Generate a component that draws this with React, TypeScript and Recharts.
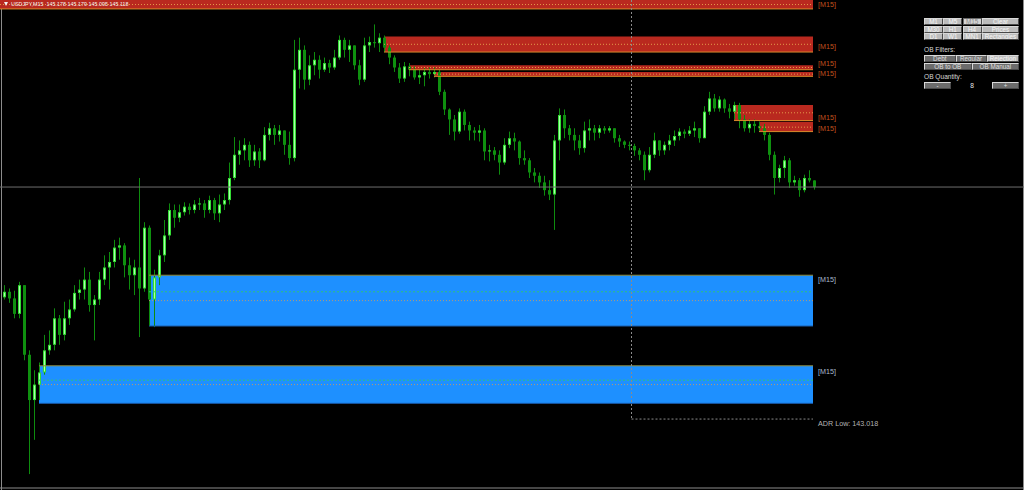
import {
  ComposedChart,
  Bar,
  XAxis,
  YAxis,
  ReferenceArea,
  ReferenceLine,
  ReferenceDot,
} from "recharts";

// USDJPY M15 – price values
const SYMBOL = "USDJPY,M15";
const FIRST_OPEN = 144.12;

const closes = [
  144.17, 144.11, 143.97, 144.23, 143.60, 143.19, 143.33, 143.44, 143.64, 143.69,
  143.93, 143.78, 143.93, 144.01, 144.16, 144.19, 144.28, 144.05, 144.10, 144.28,
  144.39, 144.44, 144.57, 144.59, 144.41, 144.32, 144.39, 144.20, 144.75, 144.10,
  144.30, 144.50, 144.68, 144.91, 144.84, 144.89, 144.94, 144.91, 144.96, 144.97,
  144.91, 145.00, 144.88, 144.96, 145.00, 145.20, 145.41, 145.45, 145.50, 145.36,
  145.44, 145.36, 145.59, 145.65, 145.59, 145.63, 145.50, 145.38, 146.18, 146.36,
  146.09, 146.22, 146.27, 146.18, 146.24, 146.20, 146.29, 146.45, 146.36, 146.40,
  146.22, 146.09, 146.40, 146.43, 146.42, 146.47, 146.38, 146.29, 146.20, 146.10,
  146.21, 146.18, 146.11, 146.13, 146.16, 146.14, 146.16, 145.98, 145.82, 145.73,
  145.62, 145.80, 145.68, 145.63, 145.61, 145.63, 145.44, 145.45, 145.41, 145.34,
  145.50, 145.56, 145.53, 145.38, 145.36, 145.25, 145.22, 145.16, 145.09, 145.05,
  145.54, 145.77, 145.65, 145.59, 145.54, 145.47, 145.63, 145.65, 145.61, 145.65,
  145.63, 145.65, 145.56, 145.53, 145.50, 145.49, 145.45, 145.41, 145.27, 145.41,
  145.54, 145.45, 145.50, 145.54, 145.58, 145.62, 145.60, 145.63, 145.65, 145.56,
  145.80, 145.92, 145.83, 145.91, 145.83, 145.80, 145.86, 145.73, 145.65, 145.69,
  145.67, 145.65, 145.59, 145.41, 145.20, 145.29, 145.36, 145.16, 145.18, 145.09,
  145.20, 145.178, 145.118,
];

const highs = [
  144.23, 144.20, 144.18, 144.26, 144.23, 143.64, 143.46, 143.53, 143.78, 143.82,
  144.02, 143.96, 144.08, 144.10, 144.23, 144.28, 144.39, 144.35, 144.14, 144.35,
  144.50, 144.53, 144.64, 144.66, 144.61, 144.48, 144.46, 145.20, 144.80, 144.77,
  144.37, 144.55, 144.82, 144.97, 144.96, 144.96, 144.98, 144.97, 145.00, 145.02,
  145.00, 145.04, 145.02, 145.05, 145.06, 145.34, 145.57, 145.54, 145.56, 145.53,
  145.50, 145.47, 145.66, 145.70, 145.68, 145.68, 145.63, 145.62, 146.45, 146.47,
  146.40, 146.31, 146.34, 146.31, 146.29, 146.27, 146.36, 146.49, 146.47, 146.45,
  146.40, 146.27, 146.47, 146.48, 146.59, 146.51, 146.49, 146.40, 146.31, 146.24,
  146.25, 146.24, 146.21, 146.18, 146.20, 146.20, 146.20, 146.18, 146.00, 145.83,
  145.77, 145.83, 145.82, 145.71, 145.66, 145.68, 145.65, 145.50, 145.48, 145.45,
  145.56, 145.62, 145.61, 145.54, 145.45, 145.38, 145.29, 145.25, 145.22, 145.18,
  145.59, 145.83, 145.82, 145.68, 145.65, 145.59, 145.71, 145.73, 145.68, 145.68,
  145.67, 145.67, 145.65, 145.59, 145.54, 145.53, 145.51, 145.47, 145.44, 145.48,
  145.61, 145.54, 145.53, 145.59, 145.63, 145.65, 145.64, 145.67, 145.71, 145.65,
  145.85, 145.98, 145.96, 145.94, 145.92, 145.87, 145.89, 145.88, 145.77, 145.73,
  145.73, 145.71, 145.69, 145.61, 145.44, 145.32, 145.40, 145.38, 145.22, 145.20,
  145.23, 145.27, 145.179,
];

const lows = [
  144.10, 144.07, 143.93, 143.93, 143.55, 142.52, 142.83, 143.19, 143.42, 143.60,
  143.64, 143.69, 143.73, 143.87, 143.99, 144.10, 144.10, 143.99, 143.73, 144.05,
  144.23, 144.19, 144.39, 144.46, 144.30, 144.19, 144.14, 143.76, 144.17, 143.86,
  143.85, 144.23, 144.44, 144.64, 144.75, 144.80, 144.86, 144.87, 144.88, 144.91,
  144.84, 144.88, 144.82, 144.80, 144.91, 144.96, 145.18, 145.32, 145.36, 145.30,
  145.31, 145.29, 145.35, 145.54, 145.50, 145.53, 145.41, 145.32, 145.35, 146.01,
  146.00, 146.04, 146.13, 146.10, 146.16, 146.15, 146.18, 146.27, 146.29, 146.25,
  146.18, 146.04, 146.07, 146.34, 146.38, 146.34, 146.34, 146.23, 146.16, 146.06,
  146.07, 146.12, 146.09, 146.05, 146.03, 146.10, 146.11, 145.95, 145.77, 145.59,
  145.54, 145.60, 145.63, 145.54, 145.54, 145.53, 145.36, 145.35, 145.36, 145.23,
  145.32, 145.47, 145.45, 145.32, 145.32, 145.20, 145.16, 145.11, 145.04, 145.00,
  144.73, 145.36, 145.56, 145.54, 145.45, 145.41, 145.43, 145.54, 145.54, 145.56,
  145.60, 145.61, 145.52, 145.48, 145.47, 145.45, 145.40, 145.36, 145.18, 145.25,
  145.38, 145.40, 145.41, 145.45, 145.49, 145.54, 145.56, 145.58, 145.57, 145.52,
  145.56, 145.77, 145.80, 145.80, 145.79, 145.74, 145.73, 145.65, 145.62, 145.61,
  145.61, 145.62, 145.54, 145.36, 145.05, 145.16, 145.20, 145.11, 145.13, 145.03,
  145.07, 145.16, 145.095,
];

// supply (red) order blocks
const supplyStart = [-0.8, 76, 81, 86, 146, 151];
const supplyTop = [146.811, 146.48, 146.22, 146.16, 145.86, 145.71];
const supplyBottom = [146.73, 146.34, 146.18, 146.12, 145.72, 145.62];
const supplyMid = [146.77, 146.41, 146.20, 146.14, 145.79, 145.66];
const supplyLabelAt = [146.77, 146.39, 146.235, 146.15, 145.75, 145.65];

// demand (blue) order blocks
const demandStart = [29, 7];
const demandTop = [144.32, 143.5];
const demandBottom = [143.86, 143.16];
const demandEq = [144.17, 143.37];
const demandMid = [144.09, 143.33];
const demandLabelAt = [144.28, 143.45];

const ZONE_LABEL = "[M15]";
const ZONE_END = 161.8;
const DAY_START = 125.5;
const ADR_LOW = 143.018;

const AXIS_TICKS = [
  6.5, 13.5, 20.5, 27.5, 34.5, 41.5, 48.5, 55.5, 62.5, 69.5, 76.5, 83.5,
  90.5, 97.5, 104.5, 111.5, 118.5, 125.5, 132.5, 139.5, 146.5, 153.5, 160.5,
];

const Y_MIN = 142.394;
const Y_MAX = 146.811;
const X_MIN = -0.8;
const X_MAX = 204;

const W = 1024;
const H = 490;

const SANS = "'Liberation Sans', Arial, 'DejaVu Sans', sans-serif";
const GRAY = "#8c8c8c";
const BULL = "#34dc34";
const BULL_CORE = "#aaffaa";
const BEAR = "#0f900f";
const WICK = "#0e8c0e";
const RED = "#b9291f";
const BLUE = "#1e90ff";

const candles = closes.map((c, i) => {
  const open = i === 0 ? FIRST_OPEN : closes[i - 1];
  const high = Math.max(highs[i], open, c);
  const low = Math.min(lows[i], open, c);
  return { i, open, high, low, close: c, range: [low, high] };
});

const last = candles[candles.length - 1];

function Candle(props: any) {
  const { x, y, width, height, payload } = props;
  if (!payload) return null;
  const top = Math.min(y, y + height);
  const h = Math.abs(height);
  const { open, close, high, low } = payload;
  const k = h / (high - low || 1);
  const py = (p: number) => top + (high - p) * k;
  const cx = Math.round(x + width / 2);
  const bTop = py(Math.max(open, close));
  const bBot = py(Math.min(open, close));
  const bull = close >= open;
  const bh = Math.max(1, bBot - bTop);
  return (
    <g>
      <line x1={cx + 0.5} x2={cx + 0.5} y1={top} y2={top + h} stroke={WICK} strokeWidth={1} />
      <rect x={cx - 1} y={bTop} width={3} height={bh} fill={bull ? BULL : BEAR} />
      {bull && bh > 3 && (
        <rect x={cx} y={bTop + 1} width={1} height={bh - 2} fill={BULL_CORE} />
      )}
    </g>
  );
}

const sideText = (text: string, color: string, dy = 0) => (p: any) => (
  <text
    x={p.cx + 5}
    y={p.cy + dy}
    dominantBaseline="central"
    fill={color}
    fontSize={7.2}
    fontFamily={SANS}
  >
    {text}
  </text>
);

type Tone = "light" | "dark" | "pressed";

function Btn({ x, y, w, label, tone }: { x: number; y: number; w: number; label: string; tone: Tone }) {
  const bg = tone === "dark" ? "#6c6c6c" : tone === "pressed" ? "#d4d4d4" : "#bcbcbc";
  const fg = tone === "dark" ? "#dedede" : tone === "pressed" ? "#8a8a8a" : "#f6f6f6";
  return (
    <div
      style={{
        position: "absolute",
        left: x,
        top: y,
        width: w,
        height: 7,
        boxSizing: "border-box",
        background: bg,
        borderTop: `1px solid ${tone === "pressed" ? "#6a6a6a" : "#d8d8d8"}`,
        borderLeft: `1px solid ${tone === "pressed" ? "#6a6a6a" : "#d8d8d8"}`,
        borderRight: "1px solid #4a4a4a",
        borderBottom: "1px solid #4a4a4a",
        color: fg,
        fontFamily: SANS,
        fontSize: 6.3,
        lineHeight: "5px",
        textAlign: "center",
        whiteSpace: "nowrap",
        overflow: "hidden",
      }}
    >
      {label}
    </div>
  );
}

function Panel() {
  const caption = (text: string, y: number) => (
    <div
      style={{
        position: "absolute",
        left: 924,
        top: y,
        color: "#d6d6d6",
        fontFamily: SANS,
        fontSize: 6.6,
        lineHeight: "7px",
      }}
    >
      {text}
    </div>
  );
  return (
    <>
      <Btn x={924} y={18} w={19} label="M1" tone="light" />
      <Btn x={943.3} y={18} w={19} label="M5" tone="light" />
      <Btn x={962.6} y={18} w={19} label="M15" tone="pressed" />
      <Btn x={982} y={18} w={37} label="Clear" tone="light" />
      <Btn x={924} y={25.6} w={19} label="M30" tone="light" />
      <Btn x={943.3} y={25.6} w={19} label="H1" tone="light" />
      <Btn x={962.6} y={25.6} w={19} label="H4" tone="light" />
      <Btn x={982} y={25.6} w={37} label="Prices" tone="light" />
      <Btn x={924} y={33.3} w={19} label="D1" tone="light" />
      <Btn x={943.3} y={33.3} w={19} label="W1" tone="light" />
      <Btn x={962.6} y={33.3} w={19} label="MN1" tone="light" />
      <Btn x={982} y={33.3} w={37} label="Rectangles" tone="light" />
      {caption("OB Filters:", 45.8)}
      <Btn x={924} y={55} w={31.5} label="Debt" tone="dark" />
      <Btn x={955.6} y={55} w={31} label="Regular" tone="dark" />
      <Btn x={986.7} y={55} w={32.3} label="Rejection" tone="light" />
      <Btn x={924} y={62.6} w={47.6} label="OB to OB" tone="dark" />
      <Btn x={971.7} y={62.6} w={47.3} label="OB Manual" tone="dark" />
      {caption("OB Quantity:", 73.2)}
      <Btn x={924} y={81.6} w={27} label="-" tone="dark" />
      <div
        style={{
          position: "absolute",
          left: 962,
          top: 81.6,
          width: 20,
          textAlign: "center",
          color: "#e8e8e8",
          fontFamily: SANS,
          fontSize: 6.6,
          lineHeight: "7px",
        }}
      >
        8
      </div>
      <Btn x={992.3} y={81.6} w={26.7} label="+" tone="dark" />
    </>
  );
}

export default function App() {
  const title = `${SYMBOL}  ${last.open.toFixed(3)} ${last.high.toFixed(3)} ${last.low.toFixed(3)} ${last.close.toFixed(3)}`;

  return (
    <div
      style={{
        position: "absolute",
        left: 0,
        top: 0,
        width: W,
        height: H,
        background: "#000",
        overflow: "hidden",
      }}
    >
      {/* chart frame */}
      <div style={{ position: "absolute", left: 1, top: 0, width: 1, height: H, background: GRAY }} />
      <div style={{ position: "absolute", left: W - 1, top: 0, width: 1, height: H, background: GRAY }} />

      <div style={{ position: "absolute", left: 0, top: 0 }}>
        <ComposedChart
          width={W}
          height={H}
          data={candles}
          margin={{ top: 0, right: 0, left: 0, bottom: 0 }}
        >
          <XAxis
            type="number"
            dataKey="i"
            domain={[X_MIN, X_MAX]}
            allowDataOverflow
            ticks={AXIS_TICKS}
            interval={0}
            tick={false}
            tickSize={4}
            height={2}
            axisLine={{ stroke: GRAY }}
            tickLine={{ stroke: GRAY }}
          />
          <YAxis type="number" domain={[Y_MIN, Y_MAX]} allowDataOverflow hide />

          {supplyStart.map((s, k) => (
            <ReferenceArea
              key={`sa${k}`}
              x1={s}
              x2={ZONE_END}
              y1={supplyBottom[k]}
              y2={supplyTop[k]}
              fill={RED}
              fillOpacity={1}
              stroke="none"
              ifOverflow="hidden"
            />
          ))}
          {demandStart.map((s, k) => (
            <ReferenceArea
              key={`da${k}`}
              x1={s}
              x2={ZONE_END}
              y1={demandBottom[k]}
              y2={demandTop[k]}
              fill={BLUE}
              fillOpacity={1}
              stroke="none"
              ifOverflow="hidden"
            />
          ))}

          {supplyStart.map((s, k) => (
            <ReferenceLine
              key={`sm${k}`}
              segment={[{ x: s, y: supplyMid[k] }, { x: ZONE_END, y: supplyMid[k] }]}
              stroke="#e39a4a"
              strokeDasharray="1 2"
              ifOverflow="hidden"
            />
          ))}
          {supplyStart.map((s, k) => (
            <ReferenceLine
              key={`sb${k}`}
              segment={[{ x: s, y: supplyBottom[k] }, { x: ZONE_END, y: supplyBottom[k] }]}
              stroke="#d98a2b"
              ifOverflow="hidden"
            />
          ))}
          {demandStart.map((s, k) => (
            <ReferenceLine
              key={`dt${k}`}
              segment={[{ x: s, y: demandTop[k] }, { x: ZONE_END, y: demandTop[k] }]}
              stroke="#8f8a3a"
              ifOverflow="hidden"
            />
          ))}
          {demandStart.map((s, k) => (
            <ReferenceLine
              key={`db${k}`}
              segment={[{ x: s, y: demandBottom[k] }, { x: ZONE_END, y: demandBottom[k] }]}
              stroke="#1a5aa8"
              ifOverflow="hidden"
            />
          ))}
          {demandStart.map((s, k) => (
            <ReferenceLine
              key={`de${k}`}
              segment={[{ x: s, y: demandEq[k] }, { x: ZONE_END, y: demandEq[k] }]}
              stroke="#2fc27a"
              strokeDasharray="2 2"
              ifOverflow="hidden"
            />
          ))}
          {demandStart.map((s, k) => (
            <ReferenceLine
              key={`dm${k}`}
              segment={[{ x: s, y: demandMid[k] }, { x: ZONE_END, y: demandMid[k] }]}
              stroke="#b39a78"
              strokeDasharray="1 2"
              ifOverflow="hidden"
            />
          ))}

          {/* bid line */}
          <ReferenceLine y={last.close} stroke="#6e6e6e" strokeWidth={1} />

          {/* day start and ADR low */}
          <ReferenceLine
            segment={[{ x: DAY_START, y: Y_MAX }, { x: DAY_START, y: ADR_LOW }]}
            stroke="#8a8a8a"
            strokeDasharray="2 2"
          />
          <ReferenceLine
            segment={[{ x: DAY_START, y: ADR_LOW }, { x: ZONE_END, y: ADR_LOW }]}
            stroke="#8a8a8a"
            strokeDasharray="2 2"
          />

          <Bar
            dataKey="range"
            barSize={5}
            shape={Candle}
            isAnimationActive={false}
          />

          {supplyLabelAt.map((p, k) => (
            <ReferenceDot
              key={`sl${k}`}
              x={ZONE_END}
              y={p}
              r={1}
              shape={sideText(ZONE_LABEL, "#c0521f")}
            />
          ))}
          {demandLabelAt.map((p, k) => (
            <ReferenceDot
              key={`dl${k}`}
              x={ZONE_END}
              y={p}
              r={1}
              shape={sideText(ZONE_LABEL, "#a9bccf")}
            />
          ))}
          <ReferenceDot
            x={ZONE_END}
            y={ADR_LOW}
            r={1}
            shape={sideText(`ADR Low: ${ADR_LOW.toFixed(3)}`, "#b4b4b4", 4)}
          />
        </ComposedChart>
      </div>

      {/* symbol header */}
      <div
        style={{
          position: "absolute",
          left: 4,
          top: 2,
          width: 0,
          height: 0,
          borderLeft: "2.5px solid transparent",
          borderRight: "2.5px solid transparent",
          borderTop: "4px solid #f0f0f0",
        }}
      />
      <div
        style={{
          position: "absolute",
          left: 11,
          top: 1,
          color: "#f2f2f2",
          fontFamily: SANS,
          fontSize: 5.4,
          lineHeight: "6px",
          whiteSpace: "pre",
        }}
      >
        {title}
      </div>

      <Panel />
    </div>
  );
}
